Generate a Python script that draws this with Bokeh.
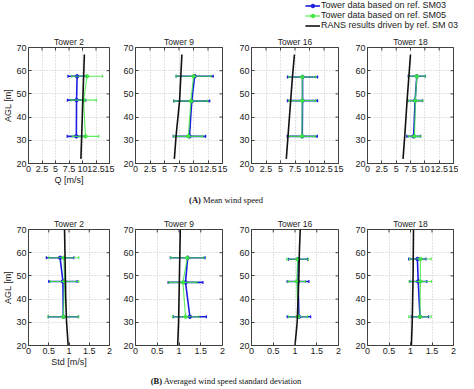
from bokeh.plotting import figure
from bokeh.models import Legend, LegendItem, FixedTicker, Div
from bokeh.layouts import column, row
from bokeh.embed import file_html
from bokeh.resources import INLINE

# ---------------- data ----------------
towers = ["Tower 2", "Tower 9", "Tower 16", "Tower 18"]

# Top row: mean wind speed Q [m/s]
q_ticks = [0, 2.5, 5, 7.5, 10, 12.5, 15]
q_labels = ["0", "2.5", "5", "7.5", "10", "12.5", "15"]
q_h = [[31.7, 47.3, 57.6], [31.7, 46.9, 57.6], [31.7, 47.1, 57.3], [31.7, 47.1, 57.6]]
q_sm03 = [[8.86, 8.9, 9.0], [9.3, 9.7, 10.2], [8.75, 8.8, 8.8], [8.05, 8.3, 8.6]]
q_sm03_sd = [[1.7, 1.7, 1.7], [2.8, 3.1, 3.2], [2.6, 2.6, 2.6], [1.2, 1.3, 1.5]]
q_sm05 = [[10.55, 10.2, 10.85], [9.1, 9.55, 10.0], [8.7, 8.75, 8.75], [8.2, 8.35, 8.6]]
q_sm05_sd = [[2.45, 2.35, 2.85], [2.5, 2.9, 3.0], [2.3, 2.3, 2.3], [1.1, 1.3, 1.45]]
q_rans_h = [22, 32, 47, 57, 67]
q_rans = [[9.7, 9.85, 10.05, 10.2, 10.35],
          [6.7, 7.0, 7.6, 7.8, 8.0],
          [6.0, 6.3, 6.75, 7.05, 7.4],
          [6.2, 6.5, 6.9, 7.2, 7.5]]

# Bottom row: averaged wind speed standard deviation [m/s]
s_ticks = [0, 0.5, 1, 1.5, 2]
s_labels = ["0", "0.5", "1", "1.5", "2"]
s_h = [[32.4, 47.6, 57.8], [32.4, 47.2, 57.8], [32.4, 47.6, 57.2], [32.4, 47.6, 57.3]]
s_sm03 = [[0.86, 0.85, 0.78], [1.25, 1.15, 1.2], [1.09, 1.07, 1.07], [1.22, 1.18, 1.16]]
s_sm03_sd = [[0.37, 0.35, 0.34], [0.38, 0.4, 0.4], [0.27, 0.25, 0.22], [0.2, 0.2, 0.2]]
s_sm05 = [[0.86, 0.89, 0.87], [1.15, 1.09, 1.19], [1.07, 1.04, 1.06], [1.22, 1.23, 1.23]]
s_sm05_sd = [[0.38, 0.35, 0.37], [0.3, 0.32, 0.38], [0.22, 0.2, 0.25], [0.26, 0.26, 0.25]]
s_rans_h = [20, 30, 40, 50, 60, 70]
s_rans = [[0.98, 0.94, 0.92, 0.91, 0.90, 0.89],
          [0.97, 0.99, 1.0, 1.01, 1.02, 1.03],
          [1.0, 1.05, 1.07, 1.09, 1.1, 1.12],
          [1.02, 1.04, 1.05, 1.06, 1.065, 1.07]]

y_ticks = [20, 30, 40, 50, 60, 70]
y_labels = ["20", "30", "40", "50", "60", "70"]

legend_labels = ["Tower data based on ref. SM03",
                 "Tower data based on ref. SM05",
                 "RANS results driven by ref. SM 03"]

# ---------------- style ----------------
BLUE = "#1c1ce0"
GREEN = "#3fe83f"
BLACK = "#111111"
FONT = "Liberation Sans"
AX = "#404040"
TXT = "#222222"

widths = [117, 116, 116, 109]
lefts = [22, 18, 18, 18]
rights = [8, 11, 11, 5]


def style_axis(ax, ticks, labels):
    ax.ticker = FixedTicker(ticks=ticks)
    ax.major_label_overrides = {t: l for t, l in zip(ticks, labels)}
    ax.major_tick_in = 3
    ax.major_tick_out = 0
    ax.minor_tick_line_color = None
    ax.axis_line_color = AX
    ax.major_tick_line_color = AX
    ax.major_label_text_font = FONT
    ax.major_label_text_font_size = "9px"
    ax.major_label_text_color = TXT
    ax.major_label_standoff = 2
    ax.axis_label_text_font = FONT
    ax.axis_label_text_font_size = "9px"
    ax.axis_label_text_font_style = "normal"
    ax.axis_label_text_color = TXT
    ax.axis_label_standoff = 0


def panel(i, xr, xticks, xlabels, xlabel, h, v3, sd3, v5, sd5, rh, rv, height, top_b, bot_b):
    p = figure(width=widths[i], height=height, x_range=xr, y_range=(20, 70),
               output_backend="svg", toolbar_location=None,
               min_border_left=lefts[i], min_border_right=rights[i],
               min_border_top=top_b, min_border_bottom=bot_b,
               title=towers[i])
    p.title.align = "center"
    p.title.text_font = FONT
    p.title.text_font_size = "8.5px"
    p.title.text_font_style = "normal"
    p.title.text_color = TXT
    p.title.standoff = 2
    p.outline_line_color = AX
    p.background_fill_color = "white"
    style_axis(p.xaxis[0], xticks, xlabels)
    style_axis(p.yaxis[0], y_ticks, y_labels)
    if i == 0:
        p.yaxis[0].axis_label = "AGL [m]"
        p.xaxis[0].axis_label = xlabel
    p.grid.grid_line_color = "#c4c4c4"
    p.grid.grid_line_dash = "1 2"
    p.xgrid.ticker = FixedTicker(ticks=xticks)
    p.ygrid.ticker = FixedTicker(ticks=y_ticks)

    # inner tick marks on the top and right edges of the box (MATLAB style)
    p.scatter(x=xticks, y=[y_ticks[-1]] * len(xticks), marker="dash", angle=1.5708,
              size=6, line_color=AX, line_width=1)
    p.scatter(x=[xr[1]] * len(y_ticks), y=y_ticks, marker="dash",
              size=6, line_color=AX, line_width=1)

    for vals, sds, col, lw, alpha in ((v3, sd3, BLUE, 1.6, 1.0), (v5, sd5, GREEN, 1.1, 0.85)):
        lo = [v - s for v, s in zip(vals, sds)]
        hi = [v + s for v, s in zip(vals, sds)]
        p.segment(x0=lo, x1=hi, y0=h, y1=h, line_color=col, line_width=lw, line_alpha=alpha)
        p.scatter(x=lo + hi, y=h + h, marker="dash", angle=1.5708, size=3,
                  line_color=col, line_width=1.2, line_alpha=alpha)
        p.line(x=vals, y=h, line_color=col, line_width=lw, line_alpha=alpha)
        p.scatter(x=vals, y=h, marker="circle", size=3.5, line_color=col,
                  fill_color=col, alpha=alpha)
    p.line(x=rv, y=rh, line_color=BLACK, line_width=1.6)
    return p


top_row = [panel(i, (0, 15), q_ticks, q_labels, "Q [m/s]", q_h[i], q_sm03[i], q_sm03_sd[i],
                 q_sm05[i], q_sm05_sd[i], q_rans_h, q_rans[i], 156, 16, 22) for i in range(4)]
bot_row = [panel(i, (0, 2), s_ticks, s_labels, "Std [m/s]", s_h[i], s_sm03[i], s_sm03_sd[i],
                 s_sm05[i], s_sm05_sd[i], s_rans_h, s_rans[i], 156, 16, 22) for i in range(4)]

# ---------------- legend header ----------------
hp = figure(width=458, height=31, x_range=(0, 1), y_range=(0, 1),
            output_backend="svg", toolbar_location=None,
            x_axis_location=None, y_axis_location=None, min_border=0)
hp.outline_line_color = None
hp.grid.visible = False
off = [5, 6]
r1 = hp.line(x=off, y=off, line_color=BLUE, line_width=1.6)
r1m = hp.scatter(x=off, y=off, marker="circle", size=3.5, color=BLUE)
r2 = hp.line(x=off, y=off, line_color=GREEN, line_width=1.1)
r2m = hp.scatter(x=off, y=off, marker="circle", size=3.5, color=GREEN)
r3 = hp.line(x=off, y=off, line_color=BLACK, line_width=1.6)
leg = Legend(items=[LegendItem(label=legend_labels[0], renderers=[r1, r1m]),
                    LegendItem(label=legend_labels[1], renderers=[r2, r2m]),
                    LegendItem(label=legend_labels[2], renderers=[r3])],
             location="top_right")
leg.label_text_font = FONT
leg.label_text_font_size = "9px"
leg.label_text_color = TXT
leg.glyph_width = 15
leg.glyph_height = 9
leg.label_height = 9
leg.label_standoff = 1
leg.spacing = 0
leg.padding = 0
leg.margin = 0
leg.border_line_alpha = 0
leg.background_fill_alpha = 0
hp.add_layout(leg)

cap_style = {"font-family": "Liberation Serif", "font-size": "8.5px", "line-height": "16px",
             "text-align": "center", "width": "442px", "color": "#111111"}
cap_a = Div(text="<b>(A)</b> Mean wind speed", width=442, height=16, styles=cap_style)
cap_b = Div(text="<b>(B)</b> Averaged wind speed standard deviation", width=442, height=14,
            styles=dict(cap_style, **{"line-height": "14px"}))

layout = column(hp, row(*top_row), cap_a, row(*bot_row), cap_b)

open("out.html", "w").write(file_html(layout, INLINE))
